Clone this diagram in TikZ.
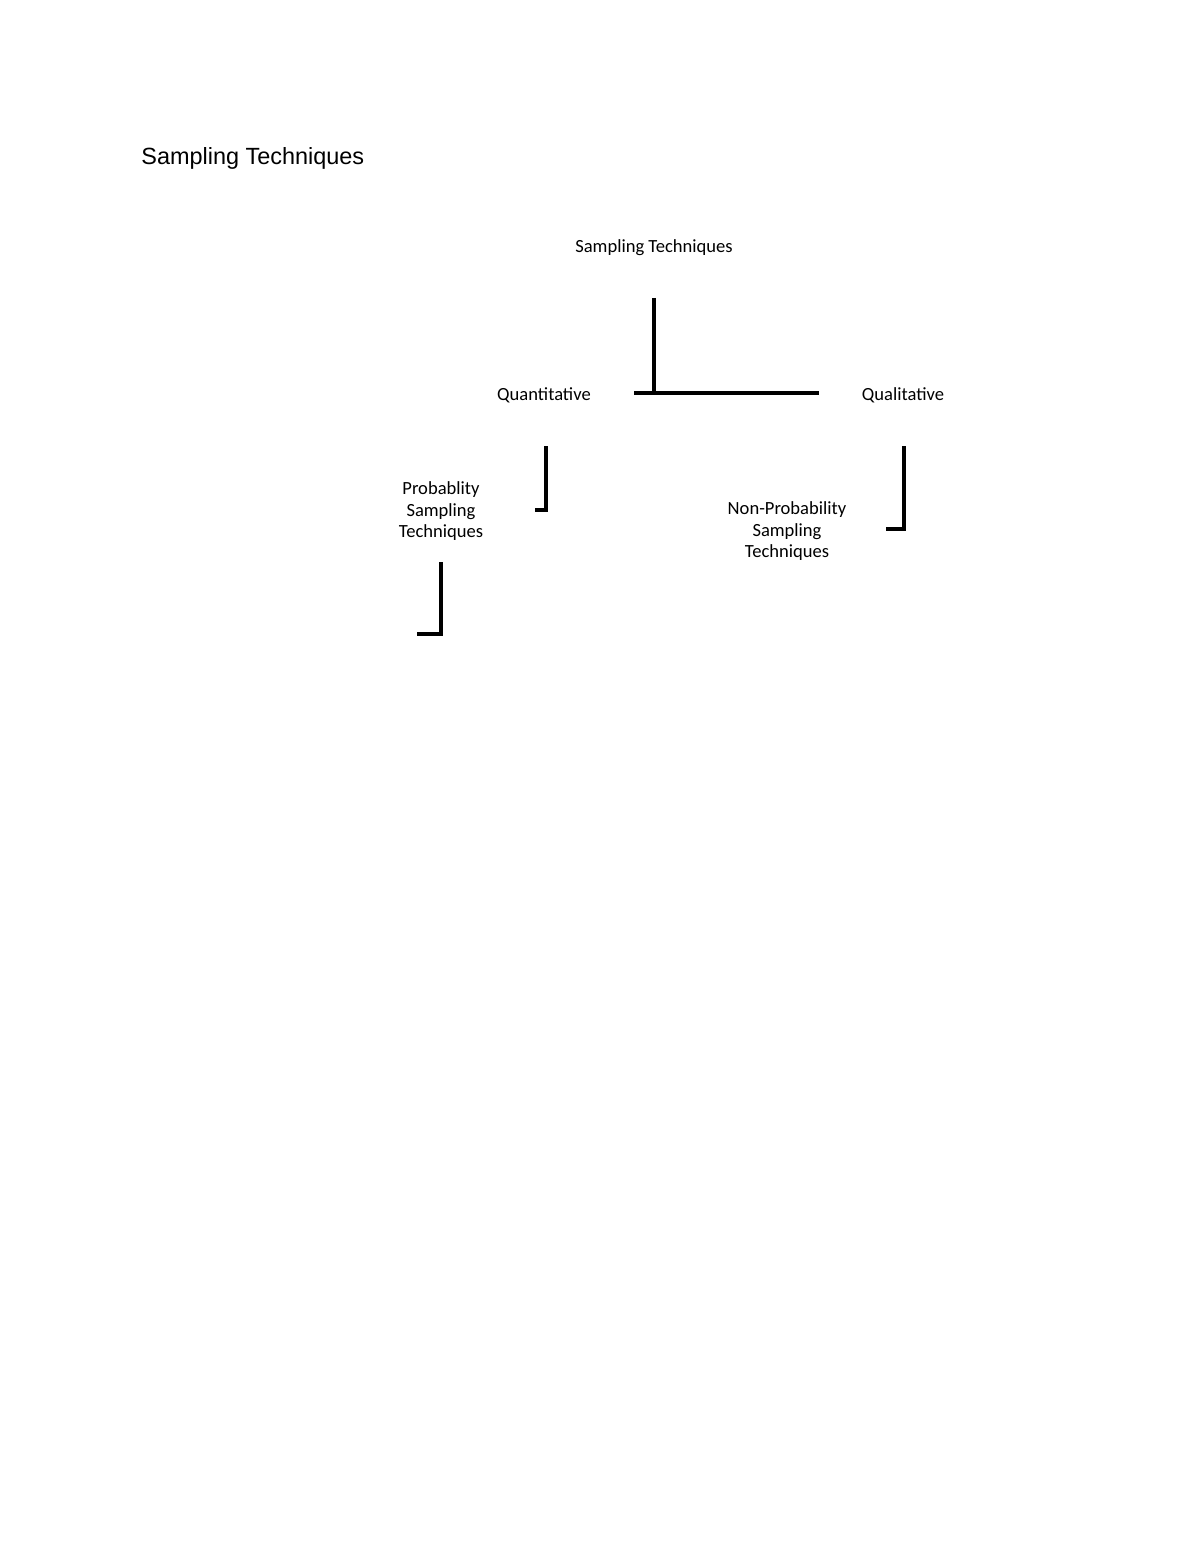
\documentclass[tikz,border=0pt]{standalone}
\usepackage{fontspec}
\setmainfont{Carlito}
\newfontfamily\headfont{Liberation Sans}
\usetikzlibrary{positioning}

\begin{document}
\begin{tikzpicture}[x=0.0179917cm, y=-0.0179917cm,
	lbl/.style={font=\fontsize{9.5}{11}\selectfont, align=center, inner sep=0pt},
	bar/.style={line width=1.6pt}]
	\useasboundingbox[fill=white] (0,0) rectangle (1200,1553);

	\node[font=\headfont\fontsize{12}{14}\selectfont, anchor=west, inner sep=0pt] (head) at (141,158) {Sampling Techniques};

	\node[lbl] (root) at (654,247.5) {Sampling Techniques};
	\node[lbl] (quant) at (544,395) {Quantitative};
	\node[lbl] (qual) at (903,395) {Qualitative};
	\node[lbl] (prob) at (441,511.5) {Probablity\\Sampling\\Techniques};
	\node[lbl] (nonprob) at (787,531.5) {Non-Probability\\Sampling\\Techniques};

	\coordinate (r1) at (654,298);
	\coordinate (r2) at (654,393);
	\coordinate (h1) at (634,393);
	\coordinate (h2) at (819,393);
	\coordinate (q1) at (546,446);
	\coordinate (q2) at (546,510);
	\coordinate (q3) at (535,510);
	\coordinate (l1) at (904,446);
	\coordinate (l2) at (904,529);
	\coordinate (l3) at (886,529);
	\coordinate (p1) at (441,562);
	\coordinate (p2) at (441,634);
	\coordinate (p3) at (417,634);

	\draw[bar] (r1) -- (r2);
	\draw[bar] (h1) -- (h2);
	\draw[bar] (q1) -- (q2) -- (q3);
	\draw[bar] (l1) -- (l2) -- (l3);
	\draw[bar] (p1) -- (p2) -- (p3);
\end{tikzpicture}
\end{document}
